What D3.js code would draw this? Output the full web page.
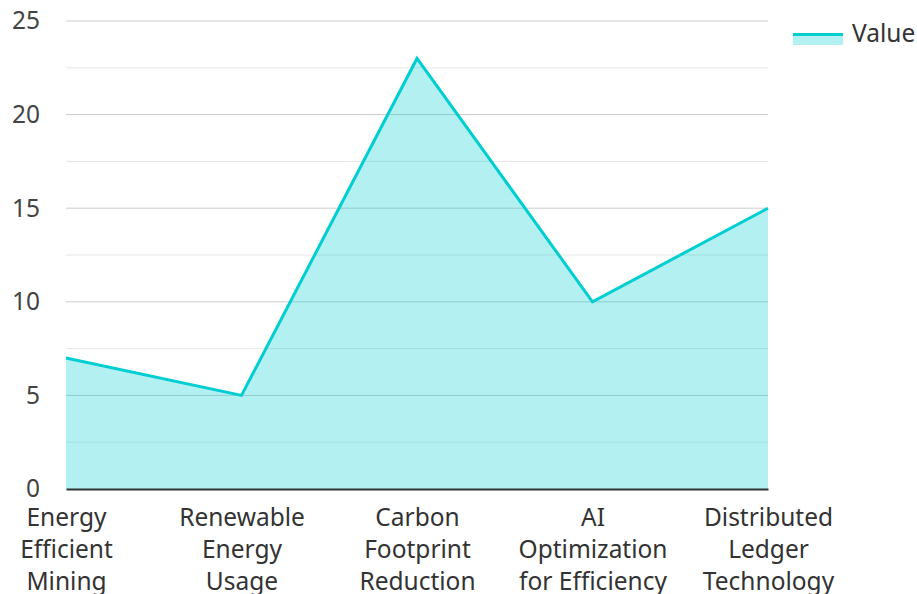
<!DOCTYPE html>
<html lang="en">
<head>
    <meta charset="UTF-8">
    <title>Area chart</title>
    <script src="https://cdn.jsdelivr.net/npm/d3@7"></script>
    <style>
        body { margin: 0; background: #fff; }
        text { font-family: "Noto Sans", sans-serif; }
    </style>
</head>
<body>
    <svg width="917" height="594"></svg>
    <script>
        // data
        const categories = [
            "Energy Efficient Mining",
            "Renewable Energy Usage",
            "Carbon Footprint Reduction",
            "AI Optimization for Efficiency",
            "Distributed Ledger Technology"
        ];
        const labelLines = [
            ["Energy", "Efficient", "Mining"],
            ["Renewable", "Energy", "Usage"],
            ["Carbon", "Footprint", "Reduction"],
            ["AI", "Optimization", "for Efficiency"],
            ["Distributed", "Ledger", "Technology"]
        ];
        const values = [7, 5, 23, 10, 15];
        const yTicks = [0, 5, 10, 15, 20, 25];
        const yMinorTicks = [2.5, 7.5, 12.5, 17.5, 22.5];
        const seriesName = "Value";

        const margin = { left: 66, right: 149, top: 21, bottom: 105 };
        const svg = d3.select('svg');
        const width = +svg.attr('width');
        const height = +svg.attr('height');
        const innerWidth = width - margin.left - margin.right;
        const innerHeight = height - margin.top - margin.bottom;
        const color = "#00CED1";
        const fontSize = 24.5;

        const x = d3.scalePoint().domain(categories).range([0, innerWidth]).padding(0);
        const y = d3.scaleLinear().domain([0, 25]).range([innerHeight, 0]);

        const g = svg.append("g").attr("transform", "translate(" + margin.left + "," + margin.top + ")");

        // grid lines
        g.selectAll(".minor").data(yMinorTicks).enter().append("line")
            .attr("x1", 0).attr("x2", innerWidth)
            .attr("y1", d => y(d)).attr("y2", d => y(d))
            .attr("stroke", "#e6e6e6").attr("stroke-width", 1);
        g.selectAll(".major").data(yTicks.filter(d => d > 0)).enter().append("line")
            .attr("x1", 0).attr("x2", innerWidth)
            .attr("y1", d => y(d)).attr("y2", d => y(d))
            .attr("stroke", "#cccccc").attr("stroke-width", 1);

        // area + line
        const area = d3.area()
            .x((d, i) => x(categories[i]))
            .y0(y(0))
            .y1(d => y(d));
        const line = d3.line()
            .x((d, i) => x(categories[i]))
            .y(d => y(d));

        g.append("path").datum(values)
            .attr("d", area)
            .attr("fill", color).attr("fill-opacity", 0.3);
        g.append("path").datum(values)
            .attr("d", line)
            .attr("fill", "none").attr("stroke", color).attr("stroke-width", 3);

        // y axis labels
        const yAxis = g.append("g").call(d3.axisLeft(y).tickValues(yTicks).tickSize(0).tickPadding(26));
        yAxis.select(".domain").remove();
        yAxis.selectAll("text").attr("font-size", fontSize).attr("fill", "#444")
            .style("font-family", "'Noto Sans', sans-serif");

        // x axis
        const xAxis = g.append("g").attr("transform", "translate(0," + innerHeight + ")")
            .call(d3.axisBottom(x).tickSize(0).tickFormat(""));
        xAxis.select(".domain").attr("stroke", "#333").attr("stroke-width", 2);
        xAxis.selectAll(".tick").each(function (d, i) {
            const t = d3.select(this).append("text")
                .attr("text-anchor", "middle")
                .attr("fill", "#333")
                .attr("font-size", fontSize);
            labelLines[i].forEach((s, k) => {
                t.append("tspan").attr("x", 0).attr("y", 37 + k * 32).text(s);
            });
        });

        // legend
        const lg = svg.append("g").attr("transform", "translate(793,33)");
        lg.append("rect").attr("x", 0).attr("y", 0).attr("width", 50).attr("height", 12)
            .attr("fill", color).attr("fill-opacity", 0.3);
        lg.append("line").attr("x1", 0).attr("x2", 50).attr("y1", 1.5).attr("y2", 1.5)
            .attr("stroke", color).attr("stroke-width", 3);
        lg.append("text").attr("x", 59).attr("y", 9).attr("font-size", fontSize).attr("fill", "#333")
            .text(seriesName);
    </script>
</body>
</html>
